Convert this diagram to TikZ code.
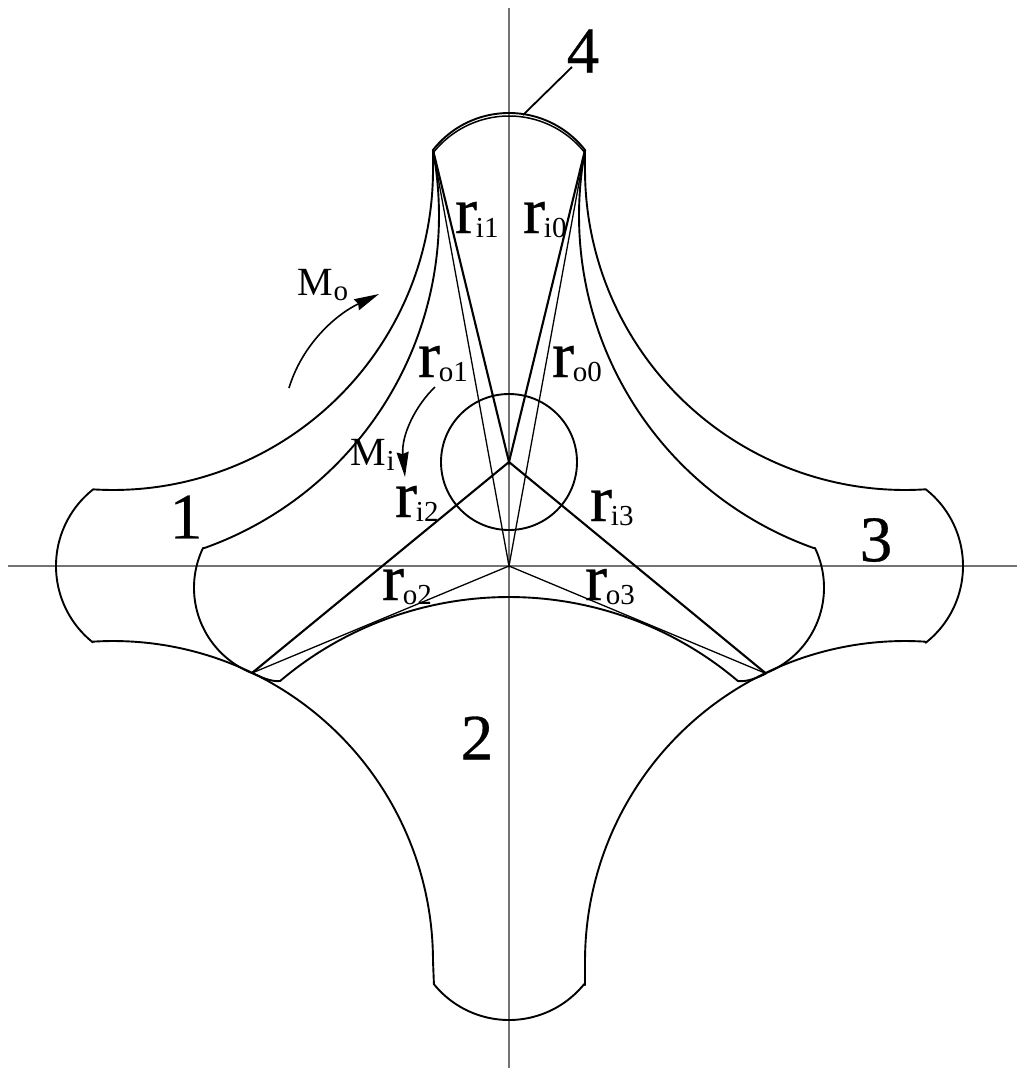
\documentclass[tikz,border=0pt]{standalone}
\usepackage{fontspec}
\setmainfont{Liberation Serif}
\newfontfamily\heavyserif[FakeBold=0.5]{Liberation Serif}
\usetikzlibrary{arrows.meta}
\newcommand\rlab[2]{{\heavyserif\fontsize{66}{66}\selectfont r}\hspace{-1pt}\raisebox{-4pt}{\fontsize{29}{29}\selectfont #1#2}}
\newcommand\mlab[1]{\fontsize{40}{40}\selectfont M\hspace{1pt}\raisebox{-5pt}{\fontsize{29}{29}\selectfont #1}}
\tikzset{
  arcs/.style={samples=90},
  profile/.style={line width=1.9pt,line join=round,black},
  axis/.style={line width=1.4pt,black!55},
  heavy/.style={line width=2.1pt,black},
  light/.style={line width=1.3pt,black},
  lab/.style={anchor=base west,inner sep=0pt,outer sep=0pt,text=black},
  num/.style={anchor=center,inner sep=0pt,outer sep=0pt,font=\heavyserif\fontsize{65}{65}\selectfont},
  moment/.style={line width=1.6pt,-{Stealth[length=25pt,width=12pt,inset=2pt]}},
}
\begin{document}
\begin{tikzpicture}[x=1pt,y=-1pt]
\useasboundingbox (0,0) rectangle (1024,1077);
\fill[white] (0,0) rectangle (1024,1077);
% named points
\coordinate (O0) at (509,566);
\coordinate (Oi) at (509,462);
\coordinate (TL) at (433,150);
\coordinate (TR) at (585,150);
\coordinate (BL) at (252,673);
\coordinate (BR) at (766,673.5);
% axes
\coordinate (AT) at (509,8);
\coordinate (AB) at (509,1068);
\coordinate (AL) at (8,566);
\coordinate (AR) at (1017,566);
\draw[axis] (AT) -- (AB);
\draw[axis] (AL) -- (AR);
% outer profile
\draw[profile]
  plot[domain=218.1:321.9,arcs] ({509+96.6*cos(\x)},{209.6+96.6*sin(\x)})
  -- (585,170)
  -- plot[domain=180:86.4,arcs] ({905+320*cos(\x)},{170+320*sin(\x)})
  -- plot[domain=-51.8:51.8,arcs] ({865.4+97.6*cos(\x)},{566+97.6*sin(\x)})
  -- plot[domain=273.6:180,arcs] ({905+320*cos(\x)},{961+320*sin(\x)})
  -- (585,985)
  -- plot[domain=39:141,arcs] ({509+96.6*cos(\x)},{923.4+96.6*sin(\x)})
  -- (433,961)
  -- plot[domain=0:-93.6,arcs] ({113+320*cos(\x)},{961+320*sin(\x)})
  -- plot[domain=128.6:231.4,arcs] ({153.6+97.6*cos(\x)},{566+97.6*sin(\x)})
  -- plot[domain=93.6:0,arcs] ({113+320*cos(\x)},{170+320*sin(\x)})
  -- cycle;
% second line of the top cap
\draw[line width=1.5pt] plot[domain=218.1:321.9,arcs] ({509+96.6*cos(\x)},{212.6+96.6*sin(\x)});
% inner profile
\draw[profile]
  plot[domain=-10.7:70.3,arcs] ({86+353*cos(\x)},{215.5+353*sin(\x)})
  -- plot[domain=205.6:111.6,arcs] ({285.8+91.8*cos(\x)},{587.7+91.8*sin(\x)})
  .. controls (261,677) and (271,682) .. (280,681)
  -- plot[domain=229.7:310.3,arcs] ({509+354*cos(\x)},{951+354*sin(\x)})
  .. controls (747,682) and (757,678) .. (BR)
  -- plot[domain=68.4:-25.6,arcs] ({732.2+91.8*cos(\x)},{587.7+91.8*sin(\x)})
  -- plot[domain=109.7:190.7,arcs] ({932+353*cos(\x)},{215.5+353*sin(\x)});
% circle
\node[draw,circle,line width=1.9pt,minimum size=136pt,inner sep=0pt] (hub) at (Oi) {};
% radii
\draw[heavy] (TL) -- (Oi) -- (TR);
\draw[heavy] (BL) -- (Oi) -- (BR);
\draw[light] (TL) -- (O0) -- (TR);
\draw[light] (BL) -- (O0) -- (BR);
% leader
\coordinate (L4a) at (523,115);
\coordinate (L4b) at (572,67);
\draw[line width=1.8pt] (L4a) -- (L4b);
% moments
\coordinate (MoA) at (289,388);
\coordinate (MoB) at (379,294);
\coordinate (MiA) at (435,387);
\coordinate (MiB) at (405,477);
\draw[moment] (MoA) .. controls (302,345) and (335,315) .. (MoB);
\draw[moment] (MiA) .. controls (416,405) and (401,435) .. (MiB);
% labels
\node[num] (n4) at (583,51) {4};
\node[num] (n1) at (186,517) {1};
\node[num] (n3) at (876,540) {3};
\node[num] (n2) at (477,738) {2};
\node[lab] (ri1) at (455,233) {\rlab{i}{1}};
\node[lab] (ri0) at (523,233) {\rlab{i}{0}};
\node[lab] (ro1) at (418,377) {\rlab{o}{1}};
\node[lab] (ro0) at (552,377) {\rlab{o}{0}};
\node[lab] (ri2) at (395,517) {\rlab{i}{2}};
\node[lab] (ri3) at (590,521) {\rlab{i}{3}};
\node[lab] (ro2) at (382,600) {\rlab{o}{2}};
\node[lab] (ro3) at (585,600) {\rlab{o}{3}};
\node[lab] (mo) at (297,295) {\mlab{o}};
\node[lab] (mi) at (350,465) {\mlab{i}};
\end{tikzpicture}
\end{document}
